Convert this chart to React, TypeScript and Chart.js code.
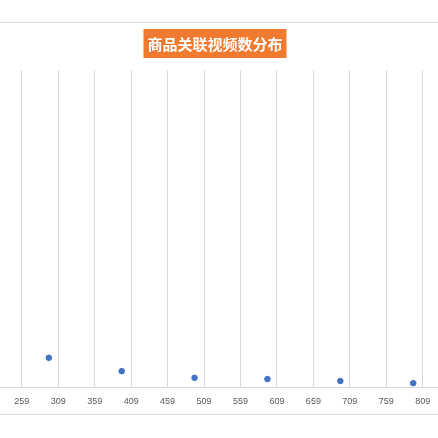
import { useEffect, useRef } from "react";
import { Chart, registerables } from "chart.js";

Chart.register(...registerables);

const TITLE = "商品关联视频数分布";
const xTickLabels = [259, 309, 359, 409, 459, 509, 559, 609, 659, 709, 759, 809];
const pointX = [296, 396, 496, 596, 696, 796];
const pointY = [92, 50, 29, 25, 19, 12];

// orange box behind the title text
const titleBoxPlugin = {
  id: "titleBox",
  afterDraw(chart: Chart) {
    const ctx = chart.ctx;
    ctx.save();
    ctx.font = "bold 15px 'Noto Sans CJK SC', sans-serif";
    const w = ctx.measureText(TITLE).width + 8;
    const cx = chart.width / 2 - 4;
    ctx.fillStyle = "#F07B30";
    ctx.fillRect(cx - w / 2, 6, w, 29);
    ctx.fillStyle = "#ffffff";
    ctx.textAlign = "center";
    ctx.textBaseline = "middle";
    ctx.fillText(TITLE, cx, 21);
    ctx.restore();
  },
};

const ScatterChart = () => {
  const canvasRef = useRef<HTMLCanvasElement>(null);
  const chartInstance = useRef<Chart | null>(null);

  useEffect(() => {
    if (!canvasRef.current) return;
    if (chartInstance.current) chartInstance.current.destroy();

    chartInstance.current = new Chart(canvasRef.current, {
      type: "scatter",
      data: {
        datasets: [{
          data: pointX.map((x, i) => ({ x, y: pointY[i] })),
          backgroundColor: "#4472C4",
          borderColor: "#4472C4",
          pointRadius: 2.8,
          pointHoverRadius: 2.8,
        }],
      },
      options: {
        responsive: true,
        maintainAspectRatio: false,
        animation: false,
        layout: { autoPadding: false, padding: { top: 47, left: 0, right: 0, bottom: 0 } },
        plugins: {
          legend: { display: false },
          title: { display: false },
          tooltip: { enabled: false },
        },
        scales: {
          x: {
            type: "linear",
            min: 229,
            max: 830,
            afterBuildTicks: (axis) => {
              axis.ticks = xTickLabels.map((v) => ({ value: v }));
            },
            afterFit: (axis) => {
              axis.paddingLeft = 0;
              axis.paddingRight = 0;
              axis.height = 27;
            },
            grid: {
              color: "#d9d9d9",
              lineWidth: 1,
              drawTicks: false,
            },
            border: { display: true, color: "#d9d9d9", width: 1 },
            ticks: {
              color: "#595959",
              padding: 9,
              maxRotation: 0,
              autoSkip: false,
              font: { size: 9, family: "'Liberation Sans', sans-serif" },
            },
          },
          y: {
            display: false,
            min: 0,
            max: 1000,
          },
        },
      },
      plugins: [titleBoxPlugin],
    });

    return () => {
      if (chartInstance.current) {
        chartInstance.current.destroy();
        chartInstance.current = null;
      }
    };
  }, []);

  return (
    <div
      style={{
        position: "absolute",
        left: 0,
        top: 22,
        width: 438,
        height: 391,
        borderTop: "1px solid #d9d9d9",
        borderBottom: "1px solid #d9d9d9",
      }}
    >
      <canvas ref={canvasRef} />
    </div>
  );
};

export default function App() {
  return (
    <div style={{ position: "fixed", inset: 0, background: "#ffffff" }}>
      <ScatterChart />
    </div>
  );
}
